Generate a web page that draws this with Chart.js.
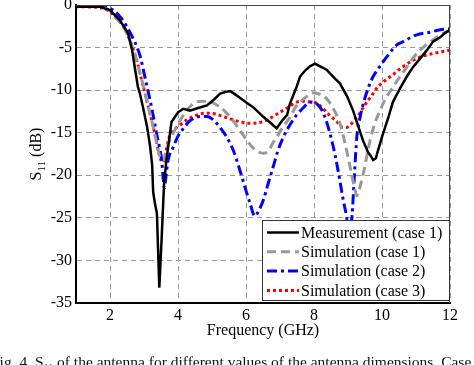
<!DOCTYPE html>
<html>
<head>
<meta charset="utf-8">
<script src="https://cdn.jsdelivr.net/npm/chart.js@4.4.0/dist/chart.umd.min.js"></script>
<style>
  html, body { margin: 0; padding: 0; background: #fff; overflow: hidden; }
  #wrap { position: relative; width: 474px; height: 365px; overflow: hidden; }
  #caption {
    position: absolute; left: -9px; top: 353px;
    font: 15.5px "Liberation Serif", "Times New Roman", serif;
    color: #111; white-space: nowrap;
  }
  #caption sub { font-size: 10px; line-height: 0; }
</style>
</head>
<body>
<div id="wrap">
  <canvas id="chart" width="474" height="365"></canvas>
  <div id="caption">Fig. 4. S<sub>11</sub> of the antenna for different values of the antenna dimensions. Case</div>
</div>
<script>
// Frequency (GHz) and S11 (dB)
const measFreq = [1.0, 1.4, 1.71, 2.0, 2.29, 2.53, 2.65, 2.74, 2.82, 2.88, 2.97, 3.09, 3.18, 3.24, 3.27, 3.33, 3.38, 3.45, 3.52, 3.59, 3.66, 3.81, 3.85, 4.0, 4.15, 4.35, 4.59, 4.85, 5.06, 5.24, 5.41, 5.53, 5.68, 5.82, 6.03, 6.21, 6.5, 6.71, 6.9, 7.06, 7.21, 7.29, 7.49, 7.59, 7.74, 7.88, 8.03, 8.18, 8.37, 8.56, 8.76, 8.97, 9.15, 9.29, 9.44, 9.59, 9.65, 9.74, 9.82, 9.88, 10.03, 10.18, 10.32, 10.53, 10.73, 10.91, 11.12, 11.32, 11.5, 11.71, 11.85, 12.0];
const measDb = [-0.2, -0.2, -0.2, -0.6, -1.8, -3.3, -5.3, -7.6, -9.6, -10.4, -12, -14.3, -16.6, -18.8, -22, -23.5, -24.5, -33.2, -27.3, -21.0, -18.2, -13.7, -13.5, -12.6, -12.2, -12.4, -12.1, -11.8, -11.1, -10.4, -10.2, -10.1, -10.5, -10.9, -11.5, -12, -13.1, -13.8, -14.5, -13.6, -12.9, -11.6, -9.6, -8.4, -7.7, -7.2, -6.9, -7.2, -7.6, -8.4, -9.2, -10.7, -12.4, -14.1, -15.9, -17.3, -17.6, -18.2, -18.0, -17.1, -15.1, -13.3, -11.4, -9.8, -8.4, -7.3, -6.3, -5.3, -4.3, -3.8, -3.3, -2.9];

const sim1Freq = [1.0, 1.5, 1.8, 2.0, 2.2, 2.39, 2.55, 2.69, 2.8, 2.88, 2.98, 3.08, 3.18, 3.27, 3.35, 3.42, 3.49, 3.56, 3.63, 3.7, 3.83, 3.96, 4.1, 4.26, 4.44, 4.7, 5.03, 5.24, 5.43, 5.62, 5.82, 6.03, 6.21, 6.5, 6.65, 6.79, 6.94, 7.09, 7.29, 7.49, 7.74, 7.98, 8.18, 8.37, 8.56, 8.76, 8.91, 9.06, 9.18, 9.26, 9.32, 9.45, 9.65, 9.79, 9.94, 10.12, 10.33, 10.53, 10.73, 10.92, 11.12, 11.5, 11.76, 12.0];
const sim1Db = [-0.1, -0.15, -0.3, -0.7, -1.6, -2.5, -3.8, -5.3, -6.8, -8.0, -9.5, -11.2, -12.8, -14.3, -15.8, -17.1, -18.0, -18.3, -17.6, -16.5, -15.3, -14.3, -13.3, -12.4, -11.6, -11.3, -11.5, -12.0, -12.7, -13.6, -14.7, -15.9, -16.8, -17.4, -17.2, -16.2, -15.3, -14.3, -13.2, -11.8, -10.9, -10.3, -10.5, -11.0, -12.1, -13.9, -16.2, -19.0, -21.2, -22.4, -21.8, -19.8, -15.9, -13.9, -12.4, -10.9, -9.6, -8.4, -7.3, -6.2, -5.3, -4.1, -3.4, -3.0];

const sim2Freq = [1.0, 1.7, 2.09, 2.3, 2.49, 2.65, 2.79, 2.9, 2.98, 3.08, 3.18, 3.28, 3.37, 3.47, 3.52, 3.57, 3.6, 3.65, 3.71, 3.86, 4.0, 4.16, 4.35, 4.65, 4.85, 5.04, 5.24, 5.43, 5.62, 5.82, 5.97, 6.12, 6.26, 6.38, 6.51, 6.65, 6.8, 6.94, 7.1, 7.29, 7.49, 7.68, 7.88, 8.08, 8.24, 8.36, 8.47, 8.62, 8.76, 8.85, 8.96, 9.03, 9.12, 9.18, 9.26, 9.35, 9.45, 9.59, 9.74, 9.94, 10.14, 10.43, 10.62, 11.02, 11.41, 11.71, 12.0];
const sim2Db = [-0.1, -0.1, -0.6, -1.4, -2.5, -3.7, -4.9, -6.2, -7.6, -9.4, -11.2, -13.2, -15.1, -17.0, -18.2, -20.6, -21.5, -20.0, -18.2, -16.7, -15.4, -14.5, -13.6, -13.1, -13.1, -13.5, -14.4, -15.5, -17.0, -19.4, -21.4, -23.3, -24.8, -24.1, -22.9, -21.0, -19.0, -17.1, -15.5, -14.1, -12.9, -12.1, -11.4, -11.6, -12.4, -13.6, -15.1, -17.6, -20.6, -22.7, -24.9, -27.0, -24.7, -20.6, -15.5, -13.3, -11.6, -9.8, -8.4, -7.2, -6.1, -4.7, -4.3, -3.5, -3.2, -2.9, -2.8];

const sim3Freq = [1.0, 1.5, 1.8, 2.0, 2.2, 2.39, 2.55, 2.69, 2.8, 2.88, 2.98, 3.08, 3.18, 3.27, 3.35, 3.42, 3.48, 3.53, 3.58, 3.65, 3.76, 3.9, 4.06, 4.25, 4.44, 4.65, 4.85, 5.1, 5.32, 5.55, 5.82, 6.12, 6.5, 6.75, 7.0, 7.25, 7.49, 7.7, 7.88, 8.06, 8.2, 8.37, 8.5, 8.62, 8.75, 8.85, 8.95, 9.06, 9.2, 9.35, 9.47, 9.59, 9.72, 9.84, 10.05, 10.32, 10.6, 10.91, 11.2, 11.5, 11.75, 12.0];
const sim3Db = [-0.2, -0.25, -0.4, -0.8, -1.6, -2.5, -3.8, -5.3, -6.7, -8.0, -9.6, -11.2, -12.8, -14.3, -15.7, -17.1, -18.0, -18.5, -18.3, -17.1, -15.3, -14.6, -14.1, -13.5, -13.1, -12.8, -12.7, -12.8, -13.1, -13.4, -13.7, -13.9, -13.7, -13.2, -12.6, -12.0, -11.4, -11.3, -11.4, -11.5, -11.9, -12.6, -13.1, -13.5, -14.0, -14.4, -14.4, -14.1, -13.5, -12.7, -11.9, -11.2, -10.5, -9.8, -9.0, -8.2, -7.3, -6.5, -6.0, -5.7, -5.5, -5.3];

const seriesLabels = ['Measurement (case 1)', 'Simulation (case 1)', 'Simulation (case 2)', 'Simulation (case 3)'];
const xTicks = [2, 4, 6, 8, 10, 12];
const yTicks = [-35, -30, -25, -20, -15, -10, -5, 0];

const FONT = '"Liberation Serif", "Times New Roman", serif';

function pairs(xs, ys) {
  return xs.map((x, i) => ({ x: x, y: ys[i] }));
}

// box edges, legend inside the plot and axis titles
const framePlugin = {
  id: 'frame',
  afterDatasetsDraw(chart) {
    const ctx = chart.ctx;
    const a = chart.chartArea;
    ctx.save();
    ctx.strokeStyle = '#444';
    ctx.lineWidth = 1;
    ctx.setLineDash([]);
    ctx.beginPath();
    ctx.moveTo(a.left, a.top + 0.5);
    ctx.lineTo(a.right - 0.5, a.top + 0.5);
    ctx.lineTo(a.right - 0.5, a.bottom);
    ctx.stroke();

    // legend
    const bw = 187, bh = 80;
    const bx = a.right - 1 - bw, by = a.bottom - 3 - bh;
    ctx.fillStyle = '#fff';
    ctx.fillRect(bx, by, bw, bh);
    ctx.strokeStyle = '#333';
    ctx.strokeRect(bx + 0.5, by + 0.5, bw, bh);
    ctx.font = '16px ' + FONT;
    ctx.textBaseline = 'middle';
    ctx.textAlign = 'left';
    chart.data.datasets.forEach((ds, i) => {
      const y = by + 12.5 + i * 19.3;
      ctx.strokeStyle = ds.borderColor;
      ctx.lineWidth = ds.borderWidth;
      ctx.setLineDash(ds.borderDash || []);
      ctx.beginPath();
      ctx.moveTo(bx + 5, y);
      ctx.lineTo(bx + 37, y);
      ctx.stroke();
      ctx.setLineDash([]);
      ctx.fillStyle = '#000';
      ctx.fillText(ds.label, bx + 39, y + 1);
    });
    ctx.restore();
  },
  afterDraw(chart) {
    const ctx = chart.ctx;
    const a = chart.chartArea;
    ctx.save();
    ctx.fillStyle = '#000';
    ctx.font = '16px ' + FONT;
    ctx.textAlign = 'center';
    ctx.textBaseline = 'middle';
    ctx.fillText('Frequency (GHz)', (a.left + a.right) / 2, 331);

    // rotated y title with subscript
    const big = '16px ' + FONT, small = '11px ' + FONT;
    ctx.font = big;
    const wS = ctx.measureText('S').width;
    const wRest = ctx.measureText(' (dB)').width;
    ctx.font = small;
    const wSub = ctx.measureText('11').width;
    const total = wS + wSub + wRest;
    ctx.translate(41, (a.top + a.bottom) / 2);
    ctx.rotate(-Math.PI / 2);
    ctx.textAlign = 'left';
    ctx.textBaseline = 'alphabetic';
    let x = -total / 2;
    ctx.font = big;
    ctx.fillText('S', x, 0);
    x += wS;
    ctx.font = small;
    ctx.fillText('11', x, 4);
    x += wSub;
    ctx.font = big;
    ctx.fillText(' (dB)', x, 0);
    ctx.restore();
  }
};

const ctx = document.getElementById('chart').getContext('2d');
new Chart(ctx, {
  type: 'line',
  data: {
    datasets: [
      {
        label: seriesLabels[0],
        data: pairs(measFreq, measDb),
        borderColor: '#000',
        borderWidth: 2.5,
        tension: 0
      },
      {
        label: seriesLabels[1],
        data: pairs(sim1Freq, sim1Db),
        borderColor: '#999',
        borderWidth: 3,
        borderDash: [9, 5],
        cubicInterpolationMode: 'monotone'
      },
      {
        label: seriesLabels[2],
        data: pairs(sim2Freq, sim2Db),
        borderColor: '#0000ff',
        borderWidth: 3,
        borderDash: [10, 4, 3, 4],
        cubicInterpolationMode: 'monotone'
      },
      {
        label: seriesLabels[3],
        data: pairs(sim3Freq, sim3Db),
        borderColor: '#ff0000',
        borderWidth: 3,
        borderDash: [3, 3],
        cubicInterpolationMode: 'monotone'
      }
    ]
  },
  options: {
    responsive: false,
    animation: false,
    events: [],
    elements: { point: { radius: 0 } },
    layout: { padding: { left: 0, right: 24, top: 5, bottom: 0 } },
    plugins: {
      legend: { display: false },
      tooltip: { enabled: false }
    },
    scales: {
      x: {
        type: 'linear',
        min: 1,
        max: 12,
        afterBuildTicks: (scale) => { scale.ticks = xTicks.map(v => ({ value: v })); },
        afterFit: (scale) => {
          scale.height = 62;
          scale.paddingLeft = 0;
          scale.paddingRight = 0;
        },
        ticks: {
          padding: 3,
          color: '#000',
          maxRotation: 0,
          font: { family: FONT, size: 16 }
        },
        grid: { color: '#999', lineWidth: 1, drawTicks: false },
        border: { display: true, color: '#000', width: 2, dash: [5, 4] }
      },
      y: {
        type: 'linear',
        min: -35,
        max: 0,
        afterBuildTicks: (scale) => { scale.ticks = yTicks.map(v => ({ value: v })); },
        afterFit: (scale) => {
          scale.width = 76;
          scale.paddingTop = 0;
          scale.paddingBottom = 0;
        },
        ticks: {
          padding: 4,
          color: '#000',
          font: { family: FONT, size: 16 }
        },
        grid: { color: '#999', lineWidth: 1, drawTicks: false },
        border: { display: true, color: '#000', width: 2, dash: [5, 4] }
      }
    }
  },
  plugins: [framePlugin]
});
</script>
</body>
</html>
